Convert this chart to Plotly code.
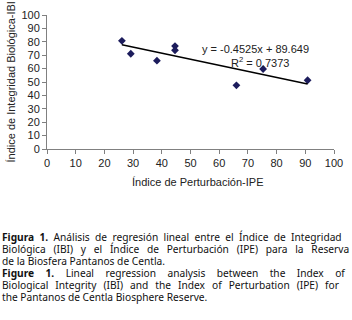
import plotly.graph_objects as go

# Data
ipe = [26.1, 29.2, 38.3, 44.6, 44.6, 66.0, 75.3, 90.8]
ibi = [80.7, 71.1, 65.9, 76.8, 73.7, 47.5, 59.7, 51.3]
slope = -0.4525
intercept = 89.649
r2 = 0.7373
x_ticks = [0, 10, 20, 30, 40, 50, 60, 70, 80, 90, 100]
y_ticks = [0, 10, 20, 30, 40, 50, 60, 70, 80, 90, 100]

caption_lines = [
    "<b>Figura 1.</b> Análisis de regresión lineal entre el Índice de Integridad",
    "Biológica (IBI) y el Índice de Perturbación (IPE) para la Reserva",
    "de la Biosfera Pantanos de Centla.",
    "<b>Figure 1.</b> Lineal regression analysis between the Index of",
    "Biological Integrity (IBI) and the Index of Perturbation (IPE) for",
    "the Pantanos de Centla Biosphere Reserve.",
]
# extra inter-word spacing to imitate the justified lines
NB, THIN, HAIR, EN = "\u00a0", "\u2009", "\u200a", "\u2002"
gap_fill = [THIN + HAIR, EN, "", EN + NB + HAIR, NB + THIN, ""]

W, H = 352, 320
L, R, T, B = 47, 14, 9, 171

fig = go.Figure()
fig.add_trace(go.Scatter(
    x=ipe, y=ibi, mode="markers",
    marker=dict(symbol="diamond", size=6, color="#1c1c5c"),
    showlegend=False))
xt = [min(ipe), max(ipe)]
fig.add_trace(go.Scatter(
    x=xt, y=[slope * v + intercept for v in xt], mode="lines",
    line=dict(color="black", width=1.5), showlegend=False))

axfont = dict(family="Liberation Sans, Arial", size=11, color="#222222")
fig.update_xaxes(range=[0, 100], tickvals=x_ticks, showgrid=False, zeroline=False,
                 showline=True, linecolor="#808080", linewidth=1,
                 ticks="outside", ticklen=4, tickcolor="#808080", tickfont=axfont)
fig.update_yaxes(range=[0, 100], tickvals=y_ticks, showgrid=False, zeroline=False,
                 showline=True, linecolor="#808080", linewidth=1,
                 ticks="outside", ticklen=4, tickcolor="#808080", tickfont=axfont)

ph = H - T - B
pw = W - L - R
def px_x(px):
    return (px - L) / pw
def px_y(py):
    return (H - B - py) / ph

ann = []
ann.append(dict(text="Índice de Perturbación-IPE", xref="paper", yref="paper",
                x=px_x(200), y=px_y(183),
                xanchor="center", yanchor="middle", showarrow=False, font=axfont))
ann.append(dict(text="Índice de Integridad Biológica-IBI", xref="paper", yref="paper",
                x=px_x(10), y=px_y(79),
                xanchor="center", yanchor="middle", textangle=-90, showarrow=False,
                font=axfont))
ann.append(dict(text=f"y = {slope}x + {intercept}", xref="x", yref="y",
                x=92, y=75, xanchor="right", yanchor="middle", showarrow=False,
                font=axfont))
ann.append(dict(text=f"R<sup>2</sup> = {r2}", xref="x", yref="y",
                x=85, y=65, xanchor="right", yanchor="middle", showarrow=False,
                font=axfont))

capfont = dict(family="Noto Sans", size=10.2, color="#111111")
line_y0 = 241
dy = 12.6
for i, txt in enumerate(caption_lines):
    yy = line_y0 + i * dy
    parts = txt.split(" ")
    line = (" " + gap_fill[i]).join(parts) if gap_fill[i] else txt
    ann.append(dict(text=line, xref="paper", yref="paper", x=px_x(0), y=px_y(yy),
                    xanchor="left", yanchor="middle", showarrow=False, font=capfont,
                    borderpad=0))

fig.update_layout(width=W, height=H, margin=dict(l=L, r=R, t=T, b=B),
                  paper_bgcolor="white", plot_bgcolor="white", annotations=ann)
fig.write_html("out.html", config={"displayModeBar": False},
               post_script="document.body.style.margin='0';document.body.style.padding='0';")
